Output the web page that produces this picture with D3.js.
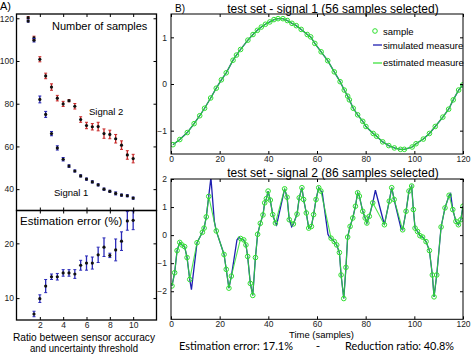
<!DOCTYPE html>
<html>
<head>
<meta charset="utf-8">
<script src="https://cdn.jsdelivr.net/npm/d3@7"></script>
<style>
  body { margin: 0; background: #fff; }
  svg { display: block; font-family: "Liberation Sans", Arial, sans-serif; }
</style>
</head>
<body>
<svg id="chart" width="474" height="355"></svg>
<script>
// ---------- Panel A data ----------
const ratioX = [1, 1.5, 2, 2.5, 3, 3.5, 4, 4.5, 5, 5.5, 6, 6.5, 7, 7.5, 8, 8.5, 9, 9.5, 10];
const samplesSignal2 = [120.3, 110.8, 100.8, 93, 87.8, 82.6, 79.9, 81.4, 78.8, 72.6, 69.8, 69.2, 69.3, 66, 65.6, 63.6, 60.6, 56, 54.3];
const samplesSignal2Err = [0.5, 0.8, 1.2, 1.3, 1.5, 1.3, 1.2, 0.5, 1.3, 1.3, 1.5, 1.5, 2.0, 2.2, 2.0, 2.0, 2.0, 2.0, 2.0];
const samplesSignal1 = [118.7, 109.7, 82, 75, 66, 59.3, 54, 50.8, 48.5, 46.2, 44.7, 43.4, 42, 40, 39, 38, 37.2, 36.9, 35.8];
const samplesSignal1Err = [0.5, 0.8, 1.6, 1.4, 1.0, 1.0, 0.8, 0.6, 0.5, 0.5, 0.5, 0.5, 0.5, 0.5, 0.5, 0.7, 0.5, 0.5, 0.5];
const errRatioX = [1.5, 2, 2.5, 3, 3.5, 4, 4.5, 5, 5.5, 6, 6.5, 7, 7.5, 8, 8.5, 9, 9.5, 10];
const errMean = [7.1, 9.9, 12.2, 13.9, 13.9, 14.6, 14.6, 14.4, 16.0, 16.4, 16.4, 17.9, 19.3, 17.8, 18.8, 20.4, 24.1, 24.2];
const errSpread = [0.5, 0.7, 1.2, 0.5, 0.6, 0.6, 0.6, 0.8, 0.9, 1.3, 1.1, 1.4, 1.7, 0.4, 2.0, 1.7, 1.7, 1.7];
const aXTicks = [2, 4, 6, 8, 10];
const aYTicks = [40, 60, 80, 100, 120];
const errYTicks = [10, 20];

// ---------- Panel B data ----------
const s1T = [0.8, 3.6, 6.7, 9.5, 11.8, 13.8, 16.3, 18.6, 20.7, 22.7, 25.5, 26.9, 28.6, 31.6, 33.7, 35.5, 37.1, 38.8, 40.6, 42.3, 44.0, 46.0, 47.8, 49.7, 51.5, 53.5, 56.0, 57.4, 59.1, 61.7, 64.4, 67.1, 69.5, 71.2, 72.6, 73.3, 74.9, 76.7, 78.8, 80.1, 83.1, 84.5, 87.0, 89.5, 91.8, 94.3, 95.9, 99.1, 100.7, 103.7, 106.2, 108.6, 111.7, 114.1, 116.0, 118.2, 119.9];
const s1V = [-1.30, -1.19, -1.04, -0.85, -0.68, -0.52, -0.30, -0.09, 0.09, 0.24, 0.51, 0.62, 0.74, 0.94, 1.06, 1.15, 1.22, 1.28, 1.33, 1.38, 1.40, 1.40, 1.36, 1.30, 1.25, 1.17, 1.06, 1.01, 0.87, 0.69, 0.50, 0.26, 0.05, -0.13, -0.26, -0.34, -0.52, -0.66, -0.80, -0.91, -1.06, -1.12, -1.24, -1.32, -1.37, -1.40, -1.40, -1.35, -1.28, -1.18, -1.06, -0.91, -0.71, -0.54, -0.34, -0.13, -0.02];

const s2T = [0.4, 1.5, 2.5, 3.6, 4.5, 5.6, 6.6, 7.7, 10.7, 12.9, 13.6, 14.5, 15.5, 18.6, 21.8, 22.7, 23.8, 24.8, 28.6, 29.9, 30.8, 31.5, 32.6, 33.6, 34.7, 35.6, 36.7, 37.8, 38.5, 39.2, 39.9, 40.8, 41.8, 42.9, 46.7, 47.7, 48.6, 50.3, 51.8, 52.7, 53.8, 54.5, 55.6, 56.6, 57.7, 58.6, 59.6, 60.7, 61.6, 65.8, 67.1, 68.1, 69.2, 69.9, 71.0, 71.9, 72.6, 73.6, 74.7, 75.8, 76.7, 77.4, 78.8, 79.8, 80.5, 81.5, 82.9, 87.7, 89.7, 90.7, 91.7, 95.2, 96.6, 97.8, 98.9, 99.6, 100.3, 101.3, 102.3, 103.4, 104.8, 106.2, 107.4, 108.1, 109.2, 111.0, 112.6, 114.3, 115.8, 117.1, 118.1, 119.1, 120.0];
const s2V = [-1.81, -1.34, -0.55, -0.26, -0.35, -0.41, -0.80, -1.58, -0.27, 0.10, 0.25, 0.65, 1.38, 0.15, -0.69, -1.22, -1.89, -1.46, -0.12, -0.17, -0.35, -0.76, -1.72, -2.15, -0.80, 0.03, 0.42, 0.72, 1.15, 1.30, 1.57, 1.25, 0.73, 0.43, 1.65, 1.35, 0.55, 0.40, 0.75, 1.33, 1.69, 1.27, 0.79, 0.25, 0.31, 0.73, 1.27, 1.69, 1.57, -0.11, -0.23, -0.35, -0.62, -1.42, -2.26, -1.15, -0.07, 0.31, 0.61, 1.03, 1.51, 1.39, 0.85, 0.61, 0.43, 0.67, 1.15, 0.37, 1.21, 1.69, 1.27, 0.19, 0.85, 1.57, 1.75, 0.91, 0.25, 0.13, -0.02, -0.07, -0.23, -0.55, -1.42, -2.20, -1.42, 0.29, 0.97, 1.42, 0.91, 0.49, 0.37, 0.55, 1.03];

// simulated measure for signal 2: differs from estimated around some peaks/dips
const s2SimT = [0.4, 1.5, 2.5, 3.6, 4.5, 5.6, 6.6, 7.7, 8.4, 10.7, 12.9, 13.6, 14.5, 15.5, 16.4, 17.8, 18.6, 21.8, 22.7, 23.8, 24.8, 25.1, 27.1, 27.8, 28.6, 29.9, 30.8, 31.5, 32.6, 33.6, 34.7, 35.6, 36.7, 37.8, 38.5, 39.2, 39.9, 40.8, 41.8, 42.9, 43.4, 46.7, 47.7, 48.6, 49.6, 50.3, 51.8, 52.7, 53.8, 54.5, 55.6, 56.6, 57.7, 58.6, 59.6, 60.7, 61.6, 62.1, 64.5, 65.2, 65.8, 67.1, 68.1, 69.2, 69.9, 71.0, 71.9, 72.6, 73.6, 74.7, 75.8, 76.7, 77.4, 78.8, 79.8, 80.5, 81.5, 82.9, 84.0, 87.7, 89.7, 90.7, 91.7, 94.5, 95.2, 96.6, 97.8, 98.9, 99.6, 100.3, 101.3, 102.3, 103.4, 104.8, 106.2, 107.4, 108.1, 109.2, 111.0, 112.6, 114.3, 114.9, 115.8, 117.1, 118.1, 119.1, 120.0];
const s2SimV = [-1.81, -1.34, -0.55, -0.26, -0.35, -0.41, -0.80, -1.58, -1.94, -0.27, 0.10, 0.25, 0.65, 1.38, 2.05, 0.50, 0.15, -0.69, -1.22, -1.89, -1.46, -1.30, -0.17, -0.08, -0.12, -0.17, -0.35, -0.76, -1.72, -2.15, -0.80, 0.03, 0.42, 0.72, 1.15, 1.30, 1.57, 1.25, 0.73, 0.43, 0.36, 1.65, 1.35, 0.55, 0.30, 0.40, 0.75, 1.33, 1.69, 1.27, 0.79, 0.25, 0.31, 0.73, 1.27, 1.69, 1.57, 1.55, 0.03, -0.08, -0.11, -0.23, -0.35, -0.62, -1.42, -2.26, -1.15, -0.07, 0.31, 0.61, 1.03, 1.51, 1.39, 0.85, 0.61, 0.43, 0.67, 1.15, 1.60, 0.37, 1.21, 1.69, 1.27, 0.25, 0.19, 0.85, 1.57, 1.75, 0.91, 0.25, 0.13, -0.02, -0.07, -0.23, -0.55, -1.42, -2.20, -1.42, 0.29, 0.97, 1.42, 1.48, 0.91, 0.49, 0.37, 0.55, 1.03];

const bXTicks = [0, 20, 40, 60, 80, 100, 120];
const b1YTicks = [-1, 0, 1];
const b2YTicks = [-2, -1, 0, 1, 2];

// ---------- drawing ----------
const svg = d3.select("#chart");
const tickFont = 8.5;
const BLUE = "#1f1fb0", GREEN = "#2fe02f", RED = "#c82828";

function frame(g, x0, y0, x1, y1, w) {
  g.append("rect").attr("x", x0).attr("y", y0).attr("width", x1 - x0).attr("height", y1 - y0)
    .attr("fill", "none").attr("stroke", "#000").attr("stroke-width", w);
}
function styleAxis(sel) {
  sel.select(".domain").remove();
  sel.selectAll("line").attr("stroke", "#000");
  sel.selectAll("text").attr("font-size", tickFont).attr("fill", "#222")
    .attr("font-family", "'Liberation Sans', Arial, sans-serif");
}
function boxAxes(x, y, xTicks, yTicks, showX, showY, pad) {
  const [x0, x1] = x.range(); const [y1, y0] = y.range();
  svg.append("g").attr("transform", `translate(${x0},0)`)
    .call(d3.axisLeft(y).tickValues(yTicks).tickSizeInner(-3).tickSizeOuter(0).tickPadding(pad)
      .tickFormat(showY ? d3.format("d") : ""))
    .call(styleAxis);
  svg.append("g").attr("transform", `translate(${x1},0)`)
    .call(d3.axisRight(y).tickValues(yTicks).tickSizeInner(-3).tickSizeOuter(0).tickFormat(""))
    .call(styleAxis);
  svg.append("g").attr("transform", `translate(0,${y1})`)
    .call(d3.axisBottom(x).tickValues(xTicks).tickSizeInner(-3).tickSizeOuter(0).tickPadding(1.5)
      .tickFormat(showX ? d3.format("d") : ""))
    .call(styleAxis);
  svg.append("g").attr("transform", `translate(0,${y0})`)
    .call(d3.axisTop(x).tickValues(xTicks).tickSizeInner(-3).tickSizeOuter(0).tickFormat(""))
    .call(styleAxis);
}

// Panel A
const xA = d3.scaleLinear().domain([0, 12]).range([16.5, 156.5]);
const yTop = d3.scaleLinear().domain([30, 122]).range([210.5, 14]);
const yErr = d3.scaleLinear().domain([6, 26]).range([320, 210.5]);

svg.append("defs").call(d => {
  d.append("clipPath").attr("id", "clipTop").append("rect").attr("x", 16.5).attr("y", 14).attr("width", 140).attr("height", 196.5);
  d.append("clipPath").attr("id", "clipErr").append("rect").attr("x", 16.5).attr("y", 210.5).attr("width", 140).attr("height", 109.5);
  d.append("clipPath").attr("id", "clipB1").append("rect").attr("x", 171).attr("y", 14).attr("width", 292).attr("height", 140);
  d.append("clipPath").attr("id", "clipB2").append("rect").attr("x", 171).attr("y", 179).attr("width", 292).attr("height", 140.3);
});

function errSeries(xs, ms, es, yScale, color, clip) {
  const g = svg.append("g").attr("clip-path", `url(#${clip})`);
  xs.forEach((xv, i) => {
    const cx = xA(xv), yl = yScale(ms[i] - es[i]), yh = yScale(ms[i] + es[i]);
    g.append("line").attr("x1", cx).attr("x2", cx).attr("y1", yl).attr("y2", yh).attr("stroke", color).attr("stroke-width", 1.3);
    g.append("line").attr("x1", cx - 1.5).attr("x2", cx + 1.5).attr("y1", yl).attr("y2", yl).attr("stroke", color).attr("stroke-width", 1);
    g.append("line").attr("x1", cx - 1.5).attr("x2", cx + 1.5).attr("y1", yh).attr("y2", yh).attr("stroke", color).attr("stroke-width", 1);
    g.append("circle").attr("cx", cx).attr("cy", yScale(ms[i])).attr("r", 1.6).attr("fill", "#111");
  });
}
errSeries(ratioX, samplesSignal2, samplesSignal2Err, yTop, RED, "clipTop");
errSeries(ratioX, samplesSignal1, samplesSignal1Err, yTop, BLUE, "clipTop");
errSeries(errRatioX, errMean, errSpread, yErr, "#2a2ab8", "clipErr");

boxAxes(xA, yTop, aXTicks, aYTicks, false, true, 2.5);
boxAxes(xA, yErr, aXTicks, errYTicks, true, true, 2.5);
frame(svg, 16.5, 14, 156.5, 210.5, 1.3);
frame(svg, 16.5, 210.5, 156.5, 320, 1.3);

svg.append("text").attr("x", 0).attr("y", 10).attr("font-size", 11).text("A)");
svg.append("text").attr("x", 52).attr("y", 29.5).attr("font-size", 11).text("Number of samples");
svg.append("text").attr("x", 89).attr("y", 115).attr("font-size", 9.5).text("Signal 2");
svg.append("text").attr("x", 54).attr("y", 195.5).attr("font-size", 9.5).text("Signal 1");
svg.append("text").attr("x", 20).attr("y", 224.5).attr("font-size", 11.5).text("Estimation error (%)");
svg.append("text").attr("x", 13).attr("y", 340.5).attr("font-size", 10.5).attr("textLength", 142).attr("lengthAdjust", "spacingAndGlyphs").text("Ratio between sensor accuracy");
svg.append("text").attr("x", 30).attr("y", 352).attr("font-size", 10.5).attr("textLength", 108).attr("lengthAdjust", "spacingAndGlyphs").text("and uncertainty threshold");

// Panel B
const xB = d3.scaleLinear().domain([0, 120]).range([171, 463]);
const yB1 = d3.scaleLinear().domain([-1.5, 1.5]).range([154, 14]);
const yB2 = d3.scaleLinear().domain([-3, 2]).range([319.3, 179]);

function signalPanel(T, V, simT, simV, y, clip) {
  const g = svg.append("g").attr("clip-path", `url(#${clip})`);
  const line = d3.line().x(d => xB(d[0])).y(d => y(d[1]));
  g.append("path").datum(d3.zip(simT, simV)).attr("d", line).attr("fill", "none").attr("stroke", BLUE).attr("stroke-width", 1.3);
  g.append("path").datum(d3.zip(T, V)).attr("d", line).attr("fill", "none").attr("stroke", GREEN).attr("stroke-width", 1.1).attr("opacity", 0.85);
  g.selectAll("circle.s").data(d3.zip(T, V)).enter().append("circle")
    .attr("cx", d => xB(d[0])).attr("cy", d => y(d[1])).attr("r", 2.3)
    .attr("fill", "none").attr("stroke", GREEN).attr("stroke-width", 1);
}
signalPanel(s1T, s1V, s1T, s1V, yB1, "clipB1");
signalPanel(s2T, s2V, s2SimT, s2SimV, yB2, "clipB2");

boxAxes(xB, yB1, bXTicks, b1YTicks, true, true, 4);
boxAxes(xB, yB2, bXTicks, b2YTicks, true, true, 4);
frame(svg, 171, 14, 463, 154, 1);
frame(svg, 171, 179, 463, 319.3, 1);

// legend
svg.append("circle").attr("cx", 375).attr("cy", 31).attr("r", 2.3).attr("fill", "none").attr("stroke", GREEN).attr("stroke-width", 1);
svg.append("line").attr("x1", 373).attr("x2", 382).attr("y1", 45).attr("y2", 45).attr("stroke", BLUE).attr("stroke-width", 1.3);
svg.append("line").attr("x1", 373).attr("x2", 382).attr("y1", 63).attr("y2", 63).attr("stroke", GREEN).attr("stroke-width", 1.2);
svg.append("text").attr("x", 383).attr("y", 34.5).attr("font-size", 9.5).text("sample");
svg.append("text").attr("x", 383).attr("y", 48.5).attr("font-size", 9.5).text("simulated measure");
svg.append("text").attr("x", 383).attr("y", 66).attr("font-size", 9.5).text("estimated measure");

svg.append("text").attr("x", 175).attr("y", 12).attr("font-size", 10).text("B)");
svg.append("text").attr("x", 333).attr("y", 12.5).attr("font-size", 12).attr("text-anchor", "middle").text("test set - signal 1 (56 samples selected)");
svg.append("text").attr("x", 333).attr("y", 176.5).attr("font-size", 12).attr("text-anchor", "middle").text("test set - signal 2 (86 samples selected)");
svg.append("text").attr("x", 321.5).attr("y", 337.5).attr("font-size", 9.5).attr("text-anchor", "middle").text("Time (samples)");
svg.append("text").attr("x", 179).attr("y", 350).attr("font-size", 12).attr("font-family", "Lato, 'Open Sans', sans-serif")
  .attr("textLength", 114).attr("lengthAdjust", "spacingAndGlyphs").text("Estimation error: 17.1%");
svg.append("text").attr("x", 318).attr("y", 350).attr("font-size", 12).attr("font-family", "Lato, 'Open Sans', sans-serif").attr("text-anchor", "middle").text("-");
svg.append("text").attr("x", 345).attr("y", 350).attr("font-size", 12).attr("font-family", "Lato, 'Open Sans', sans-serif")
  .attr("textLength", 109).attr("lengthAdjust", "spacingAndGlyphs").text("Reduction ratio: 40.8%");
</script>
</body>
</html>
